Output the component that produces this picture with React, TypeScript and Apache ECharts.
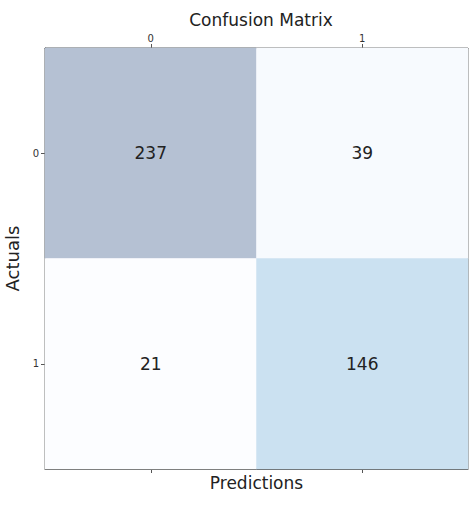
import React, { useEffect, useRef } from "react";
import * as echarts from "echarts";

const predictedCategories = ["0", "1"];
const actualCategories = ["0", "1"];
// rows: actual, columns: predicted
const matrix = [
  [237, 39],
  [21, 146],
];
// matplotlib "Blues" blended with white at alpha 0.3
const bluesFaded = [
  "#fcfdff",
  "#f5f9fd",
  "#eef4fa",
  "#e2eff6",
  "#d3e7f3",
  "#c6def0",
  "#bcd4e9",
  "#b5cbe1",
  "#b5c1d3",
];

const FONT = "DejaVu Sans";

export default function App() {
  const ref = useRef<HTMLDivElement>(null);
  useEffect(() => {
    const chart = echarts.init(ref.current!, undefined, { renderer: "svg" });
    const data: number[][] = [];
    matrix.forEach((row, y) => row.forEach((v, x) => data.push([x, y, v])));
    const flat = matrix.flat();
    const axisLine = { show: true, lineStyle: { color: "#555", width: 1 } };
    chart.setOption({
      animation: false,
      textStyle: { fontFamily: FONT },
      title: {
        text: "Confusion Matrix",
        left: 256,
        top: 6,
        textAlign: "center",
        textStyle: { fontFamily: FONT, fontSize: 17, fontWeight: "normal", color: "#222" },
      },
      grid: {
        left: 45,
        right: 6,
        top: 48,
        bottom: 42,
        show: true,
        borderColor: "#555",
        borderWidth: 1,
        backgroundColor: "transparent",
        outerBoundsMode: "none",
        containLabel: false,
      },
      visualMap: {
        show: false,
        min: Math.min(...flat),
        max: Math.max(...flat),
        inRange: { color: bluesFaded },
      },
      xAxis: [
        {
          type: "category",
          data: predictedCategories,
          position: "top",
          axisLine,
          axisTick: { show: true, alignWithLabel: true, length: 4, lineStyle: { color: "#555" } },
          axisLabel: { fontFamily: FONT, fontSize: 10, color: "#333", margin: 5 },
          splitLine: { show: false },
        },
        {
          type: "category",
          data: predictedCategories,
          position: "bottom",
          axisLine,
          axisTick: { show: true, alignWithLabel: true, length: 4, lineStyle: { color: "#555" } },
          axisLabel: { show: false },
          name: "Predictions",
          nameLocation: "middle",
          nameGap: 5,
          nameTextStyle: { fontFamily: FONT, fontSize: 17, color: "#222", verticalAlign: "top" },
        },
      ],
      yAxis: {
        type: "category",
        data: actualCategories,
        inverse: true,
        axisLine,
        axisTick: { show: true, alignWithLabel: true, length: 4, lineStyle: { color: "#555" } },
        axisLabel: { fontFamily: FONT, fontSize: 10, color: "#333", margin: 6 },
        name: "Actuals",
        nameLocation: "middle",
        nameGap: 22,
        nameRotate: 90,
        nameTextStyle: { fontFamily: FONT, fontSize: 18, color: "#222" },
      },
      series: [
        {
          type: "heatmap",
          xAxisIndex: 0,
          data,
          label: { show: true, fontFamily: FONT, fontSize: 17, color: "#222" },
          itemStyle: { borderWidth: 0 },
          emphasis: { disabled: true },
        },
      ],
    });
    return () => chart.dispose();
  }, []);
  return <div ref={ref} style={{ width: 474, height: 511, position: "absolute", left: 0, top: 0 }} />;
}
